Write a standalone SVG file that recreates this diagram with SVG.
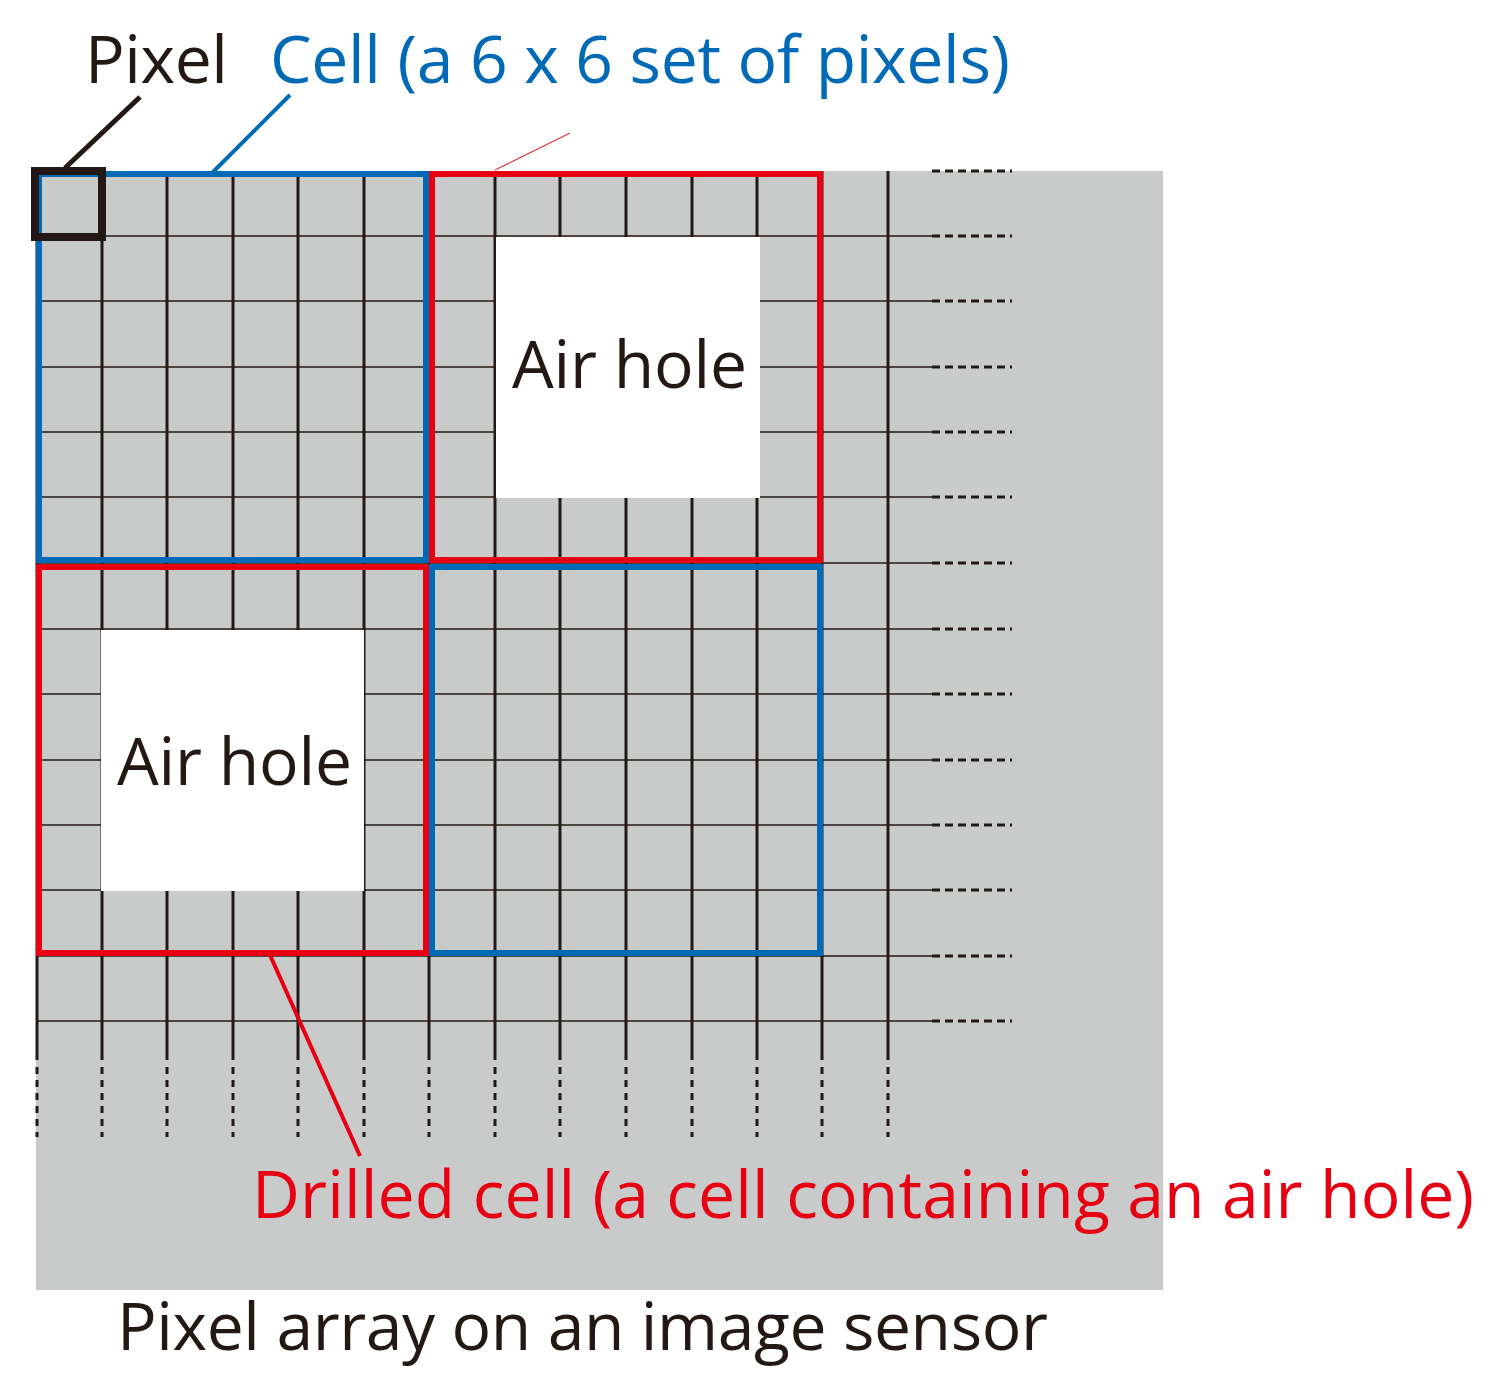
<svg xmlns="http://www.w3.org/2000/svg" width="1491" height="1379" viewBox="0 0 1491 1379">
<style>
text{font-family:"Open Sans","Liberation Sans",sans-serif;font-size:66px}
.h{stroke:#231815;stroke-width:1.3}
.hd{stroke:#231815;stroke-width:3;stroke-dasharray:8 5}
.v{stroke:#231815;stroke-width:3}
.vd{stroke:#231815;stroke-width:3;stroke-dasharray:7 6}
.blue{fill:none;stroke:#006AB6;stroke-width:6}
.red{fill:none;stroke:#E60012;stroke-width:6}
</style>
<rect x="36" y="171" width="1127" height="1119" fill="#C9CACA"/>
<g id="grid">
<g id="hlines">
<path class="h" d="M36 236H932M36 301H932M36 367H932M36 432H932M36 497H932M36 563H932M36 629H932M36 694H932M36 760H932M36 825H932M36 890H932M36 956H932M36 1021H932"/>
<path class="hd" d="M932 171H1012M932 236H1012M932 301H1012M932 367H1012M932 432H1012M932 497H1012M932 563H1012M932 629H1012M932 694H1012M932 760H1012M932 825H1012M932 890H1012M932 956H1012M932 1021H1012"/>
</g>
<g id="vlines">
<path class="v" d="M37 171V1060M102 171V1060M167 171V1060M233 171V1060M298 171V1060M364 171V1060M429 171V1060M495 171V1060M560 171V1060M626 171V1060M692 171V1060M757 171V1060M822 171V1060M888 171V1060"/>
<path class="vd" d="M37 1067V1137M102 1067V1137M167 1067V1137M233 1067V1137M298 1067V1137M364 1067V1137M429 1067V1137M495 1067V1137M560 1067V1137M626 1067V1137M692 1067V1137M757 1067V1137M822 1067V1137M888 1067V1137"/>
</g>
</g>
<g id="airhole1"><rect x="496" y="237" width="264" height="261" fill="#fff"/><text x="512" y="388" fill="#231815" textLength="235">Air hole</text></g>
<g id="airhole2"><rect x="101" y="630" width="263" height="261" fill="#fff"/><text x="117" y="785" fill="#231815" textLength="235">Air hole</text></g>
<g id="cell1"><rect class="blue" x="39" y="174" width="387" height="386"/></g>
<g id="drilled1"><rect class="red" x="432" y="174" width="388" height="386"/></g>
<g id="drilled2"><rect class="red" x="39" y="567" width="387" height="386"/></g>
<g id="cell2"><rect class="blue" x="432" y="567" width="388" height="386"/></g>
<g id="pixel"><rect x="35" y="171" width="67" height="66" fill="none" stroke="#231815" stroke-width="8"/></g>
<g id="connectors">
<path d="M65 168L140 97" stroke="#231815" stroke-width="5"/>
<path d="M213 172L290 95" stroke="#006AB6" stroke-width="4"/>
<path d="M495 170L570 133" stroke="#E60012" stroke-width="1"/>
<path d="M270 955L360 1156" stroke="#E60012" stroke-width="4"/>
</g>
<g id="labels">
<text x="85" y="83" fill="#231815" textLength="143">Pixel</text>
<text x="270" y="83" fill="#006AB6" textLength="740">Cell (a 6 x 6 set of pixels)</text>
<text x="252" y="1218" fill="#E60012" textLength="1222">Drilled cell (a cell containing an air hole)</text>
<text x="117" y="1350" fill="#231815" textLength="931">Pixel array on an image sensor</text>
</g>
</svg>
